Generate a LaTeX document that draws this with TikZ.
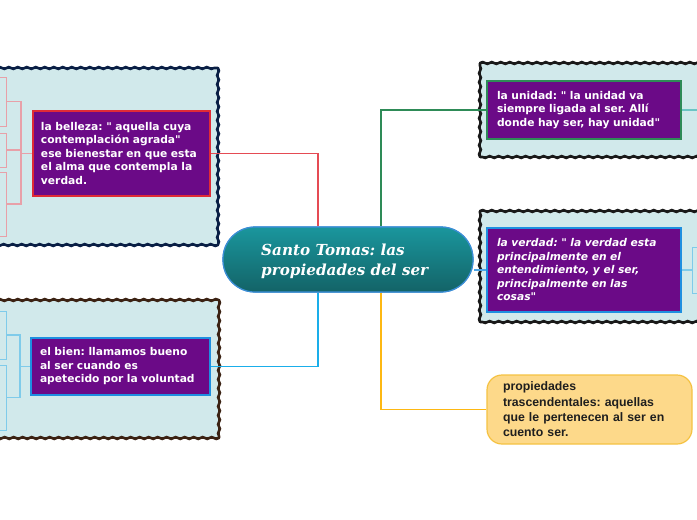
\documentclass[tikz,border=0pt]{standalone}
\usepackage{fontspec}
\setmainfont{DejaVu Sans}
\newfontfamily\purpfont{DejaVu Sans}
\newfontfamily\titlefont{DejaVu Serif}
\newfontfamily\propfont{Liberation Sans}
\usetikzlibrary{decorations.pathmorphing}
\definecolor{panelfill}{HTML}{D1E9EB}
\definecolor{purp}{HTML}{6B0A87}
\definecolor{redb}{HTML}{E02B36}
\definecolor{pinkl}{HTML}{E8A0A8}
\definecolor{blueb}{HTML}{1E8FE0}
\definecolor{bluel}{HTML}{1AAEEA}
\definecolor{lblue}{HTML}{7FCBEA}
\definecolor{greenb}{HTML}{2E8B57}
\definecolor{tealc}{HTML}{6CC4C4}
\definecolor{orangec}{HTML}{FDB813}
\definecolor{propfill}{HTML}{FDD98A}
\definecolor{propdraw}{HTML}{F5C242}
\definecolor{ctop}{HTML}{1A969D}
\definecolor{cbot}{HTML}{136367}
\definecolor{cborder}{HTML}{3C8ED6}
\definecolor{navy}{HTML}{0A1F45}
\definecolor{brownb}{HTML}{3B2213}
\tikzset{
  panelbase/.style={fill=panelfill, line width=2.6pt},
  wavyside/.style={line width=2.6pt, decorate,
    decoration={snake, segment length=9pt, amplitude=0.9pt}},
  purpnode/.style={fill=purp, line width=1.8pt, text=white, align=left,
    inner sep=0pt, font=\purpfont\frenchspacing\bfseries\fontsize{10.7}{13.5}\selectfont},
  childbox/.style={draw, line width=0.8pt, fill=none, inner sep=0pt},
  conn/.style={line width=1.3pt},
}
\newcommand\wavypanel[5]{%
  \draw[panelbase, draw=#1] (#2,#3) rectangle (#4,#5);
  \draw[wavyside, draw=#1] (#2,#3) -- (#4,#3);
  \draw[wavyside, draw=#1] (#4,#3) -- (#4,#5);
  \draw[wavyside, draw=#1] (#4,#5) -- (#2,#5);
  \draw[wavyside, draw=#1] (#2,#5) -- (#2,#3);
}
\begin{document}
\begin{tikzpicture}[x=1pt,y=-1pt]
\useasboundingbox (0,0) rectangle (697,520);
\clip (0,0) rectangle (697,520);
% panels
\wavypanel{navy}{-30}{68}{218}{245}
\wavypanel{brownb}{-30}{300}{219}{438}
\wavypanel{black!90}{480}{63}{740}{157}
\wavypanel{black!90}{480}{211}{740}{322}

% central node
\node[draw=cborder, line width=1.2pt, top color=ctop, bottom color=cbot,
  rounded corners=32pt, minimum width=250pt, minimum height=65pt,
  inner sep=0pt] (central) at (348,259.5) {};

% main nodes
\node[purpnode, draw=redb, minimum width=177pt, minimum height=85pt,
  text width=161pt] (belleza) at (121.5,153.5)
  {la belleza: " aquella cuya\\contemplación agrada"\\ese bienestar en que esta\\el alma que contempla la\\verdad.};
\node[purpnode, draw=blueb, minimum width=179pt, minimum height=57pt,
  text width=161pt] (bien) at (120.5,366.5)
  {el bien: llamamos bueno\\al ser cuando es\\apetecido por la voluntad};
\node[purpnode, draw=greenb, minimum width=194pt, minimum height=58pt,
  text width=174pt] (unidad) at (584,110)
  {la unidad: " la unidad va\\siempre ligada al ser. Allí\\donde hay ser, hay unidad"};
\node[purpnode, draw=blueb, minimum width=194pt, minimum height=84pt,
  text width=174pt, font=\purpfont\frenchspacing\bfseries\itshape\fontsize{10.7}{13.5}\selectfont] (verdad) at (584,270)
  {la verdad: " la verdad esta\\principalmente en el\\entendimiento, y el ser,\\principalmente en las\\cosas"};
\node[fill=propfill, draw=propdraw, line width=1.2pt, rounded corners=15pt,
  minimum width=205pt, minimum height=69pt, text width=173pt, align=left,
  inner sep=0pt, text=black!88,
  font=\propfont\frenchspacing\bfseries\fontsize{12.3}{15.3}\selectfont] (prop) at (589.5,409.5)
  {propiedades\\trascendentales: aquellas\\que le pertenecen al ser en\\cuento ser.};

% child boxes (cut at page edges)
\node[childbox, draw=pinkl, minimum width=46pt, minimum height=49pt] (b1) at (-17,101.5) {};
\node[childbox, draw=pinkl, minimum width=46pt, minimum height=34pt] (b2) at (-17,150) {};
\node[childbox, draw=pinkl, minimum width=46pt, minimum height=64pt] (b3) at (-17,204) {};
\node[childbox, draw=lblue, minimum width=46pt, minimum height=48pt] (n1) at (-17,335) {};
\node[childbox, draw=lblue, minimum width=46pt, minimum height=65pt] (n2) at (-17,397.5) {};
\node[childbox, draw=lblue, minimum width=46pt, minimum height=46pt] (v1) at (715,270) {};
\coordinate (uout) at (710,110);

% connectors
\draw[conn, draw=redb!85] (belleza.east) -| ([xshift=-30pt]central.north);
\draw[conn, draw=greenb] (unidad.west) -| ([xshift=33pt]central.north);
\draw[conn, draw=bluel] (bien.east) -| ([xshift=-30pt]central.south);
\draw[conn, draw=orangec] (prop.west) -| ([xshift=33pt]central.south);
\draw[conn, draw=blueb!80] (verdad.west) -- (verdad.west -| central.east);
\draw[conn, draw=tealc] (unidad.east) -- (uout);
\draw[conn, draw=lblue] (verdad.east) -- (v1.west);
\draw[conn, draw=pinkl] (belleza.west) -- ++(-11,0) coordinate (bj);
\draw[conn, draw=pinkl] (b1.east) -| (bj) |- (b3.east);
\draw[conn, draw=pinkl] (b2.east) -- (b2.east -| bj);
\draw[conn, draw=lblue] (bien.west) -- ++(-10,0) coordinate (nj);
\draw[conn, draw=lblue] (n1.east) -| (nj) |- (n2.east);

% redraw central on top
\node[draw=cborder, line width=1.2pt, top color=ctop, bottom color=cbot,
  rounded corners=32pt, minimum width=250pt, minimum height=65pt,
  inner sep=0pt] at (central) {};
\node[text=white, align=left, anchor=west, inner sep=0pt,
  font=\titlefont\frenchspacing\bfseries\itshape\fontsize{15.2}{19.5}\selectfont]
  (ctitle) at (261,261.5) {Santo Tomas: las\\propiedades del ser};
\end{tikzpicture}
\end{document}
